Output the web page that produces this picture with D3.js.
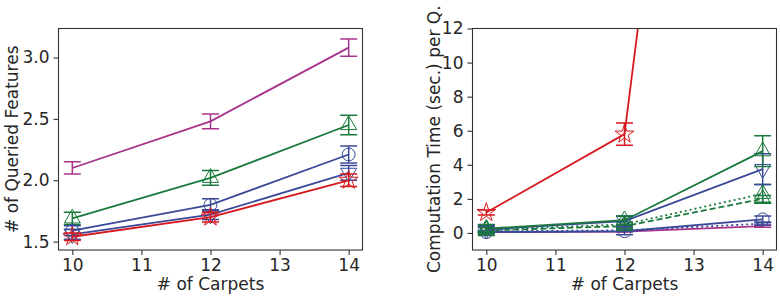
<!DOCTYPE html>
<html><head><meta charset="utf-8">
<script src="https://cdn.jsdelivr.net/npm/d3@7"></script>
<style>body{margin:0;background:#fff}svg{display:block}text{font-family:"DejaVu Sans",sans-serif;fill:#262626}</style>
</head><body><svg id="c" width="780" height="297"></svg>
<script>
// ---- data ----
const carpets = [10, 12, 14];
const xTicks = [10, 11, 12, 13, 14];
const leftYTicks = [1.5, 2.0, 2.5, 3.0];
const rightYTicks = [0, 2, 4, 6, 8, 10, 12];

// # of queried features (left)
const qfPurple = [2.10, 2.48, 3.08], qfPurpleErr = [0.05, 0.06, 0.07];
const qfGreen = [1.69, 2.02, 2.45], qfGreenErr = [0.05, 0.06, 0.08];
const qfBlueCircle = [1.59, 1.80, 2.21], qfBlueCircleErr = [0.04, 0.05, 0.07];
const qfBlueTri = [1.56, 1.72, 2.06], qfBlueTriErr = [0.04, 0.04, 0.06];
const qfRed = [1.54, 1.70, 2.00], qfRedErr = [0.03, 0.04, 0.05];

// computation time (right)
const ctPurple = [0.05, 0.08, 0.40], ctPurpleErr = [0.03, 0.03, 0.06];
const ctBlueDotted = [0.10, 0.15, 0.55], ctBlueDottedErr = [0.05, 0.05, 0.1];
const ctBlueCircle = [0.05, 0.10, 0.80], ctBlueCircleErr = [0.1, 0.2, 0.2];
const ctGreenDashed = [0.15, 0.40, 2.00], ctGreenDashedErr = [0.3, 0.1, 0.2];
const ctGreenDotted = [0.20, 0.50, 2.30], ctGreenDottedErr = [0.1, 0.15, 0.55];
const ctBlueTri = [0.20, 0.70, 3.75], ctBlueTriErr = [0.2, 0.3, 0.9];
const ctGreen = [0.25, 0.75, 4.80], ctGreenErr = [0.25, 0.25, 0.9];
const ctRed = [1.20, 5.80, 70.0], ctRedErr = [0.15, 0.65, 0];

const C = {red:"#d7191f", green:"#1a7a3c", blue:"#3b4a98", purple:"#a8338c"};

const svg = d3.select("#c");
const sym = {
  circle: d3.symbol().type(d3.symbolCircle).size(130),
  triUp: d3.symbol().type(d3.symbolTriangle).size(110),
  triDown: d3.symbol().type(d3.symbolTriangle).size(110),
  star: d3.symbol().type(d3.symbolStar).size(110)
};

function panel(cfg) {
  const {x0, x1, y0, y1, yDomain, yTicks, yFmt, ylabel, ylabelX, series, id} = cfg;
  const x = d3.scaleLinear().domain([9.8, 14.2]).range([x0, x1]);
  const y = d3.scaleLinear().domain(yDomain).range([y1, y0]);
  const g = svg.append("g");
  g.append("clipPath").attr("id", id).append("rect")
    .attr("x", x0).attr("y", y0).attr("width", x1 - x0).attr("height", y1 - y0);
  const pg = g.append("g").attr("clip-path", `url(#${id})`);
  series.forEach(s => {
    const pts = carpets.map((c, i) => ({x: c, v: s.v[i], e: s.e[i]}));
    pg.append("path").datum(pts)
      .attr("d", d3.line().x(d => x(d.x)).y(d => y(d.v)))
      .attr("fill", "none").attr("stroke", s.c).attr("stroke-width", 1.8)
      .attr("stroke-dasharray", s.dash || null);
    pts.forEach(d => {
      if (d.e > 0) {
        pg.append("line").attr("x1", x(d.x)).attr("x2", x(d.x))
          .attr("y1", y(d.v - d.e)).attr("y2", y(d.v + d.e))
          .attr("stroke", s.c).attr("stroke-width", 1.5);
        [d.v - d.e, d.v + d.e].forEach(t => {
          pg.append("line").attr("x1", x(d.x) - 8.5).attr("x2", x(d.x) + 8.5)
            .attr("y1", y(t)).attr("y2", y(t)).attr("stroke", s.c).attr("stroke-width", 1.5);
        });
      }
      if (s.m) {
        pg.append("path").attr("d", sym[s.m]())
          .attr("transform", `translate(${x(d.x)},${y(d.v)})${s.m === "triDown" ? " rotate(180)" : ""}`)
          .attr("fill", "none").attr("stroke", s.c).attr("stroke-width", 1);
      }
    });
  });
  // frame
  g.append("rect").attr("x", x0).attr("y", y0).attr("width", x1 - x0).attr("height", y1 - y0)
    .attr("fill", "none").attr("stroke", "#333").attr("stroke-width", 1.1);
  const xa = g.append("g").attr("transform", `translate(0,${y1})`)
    .call(d3.axisBottom(x).tickValues(xTicks).tickFormat(d3.format("d")).tickSize(5).tickPadding(4));
  const ya = g.append("g").attr("transform", `translate(${x0},0)`)
    .call(d3.axisLeft(y).tickValues(yTicks).tickFormat(yFmt).tickSize(5).tickPadding(4));
  [xa, ya].forEach(a => {
    a.select(".domain").remove();
    a.selectAll("line").attr("stroke", "#333").attr("stroke-width", 1.1);
    a.selectAll("text").style("font-size", "17px").attr("fill", "#262626").style("font-family", "DejaVu Sans");
  });
  g.append("text").attr("x", (x0 + x1) / 2).attr("y", 290).attr("text-anchor", "middle")
    .style("font-size", "17px").text("# of Carpets");
  g.append("text").attr("transform", `translate(${ylabelX},${(y0 + y1) / 2}) rotate(-90)`)
    .attr("text-anchor", "middle").style("font-size", "17px").text(ylabel);
}

panel({
  id: "clipL", x0: 58.5, x1: 362.5, y0: 28.5, y1: 250,
  yDomain: [1.432, 3.236], yTicks: leftYTicks, yFmt: d3.format(".1f"),
  ylabel: "# of Queried Features", ylabelX: 18,
  series: [
    {v: qfPurple, e: qfPurpleErr, c: C.purple, m: null},
    {v: qfGreen, e: qfGreenErr, c: C.green, m: "triUp"},
    {v: qfBlueCircle, e: qfBlueCircleErr, c: C.blue, m: "circle"},
    {v: qfBlueTri, e: qfBlueTriErr, c: C.blue, m: "triDown"},
    {v: qfRed, e: qfRedErr, c: C.red, m: "star"}
  ]
});

panel({
  id: "clipR", x0: 472.5, x1: 776.5, y0: 28.5, y1: 250,
  yDomain: [-1, 12], yTicks: rightYTicks, yFmt: d3.format("d"),
  ylabel: "Computation Time (sec.) per Q.", ylabelX: 440,
  series: [
    {v: ctPurple, e: ctPurpleErr, c: C.purple, m: null},
    {v: ctBlueDotted, e: ctBlueDottedErr, c: C.blue, m: null, dash: "2,3"},
    {v: ctBlueCircle, e: ctBlueCircleErr, c: C.blue, m: "circle"},
    {v: ctGreenDashed, e: ctGreenDashedErr, c: C.green, m: "triUp", dash: "6,3"},
    {v: ctGreenDotted, e: ctGreenDottedErr, c: C.green, m: "triUp", dash: "2,3"},
    {v: ctBlueTri, e: ctBlueTriErr, c: C.blue, m: "triDown"},
    {v: ctGreen, e: ctGreenErr, c: C.green, m: "triUp"},
    {v: ctRed, e: ctRedErr, c: C.red, m: "star"}
  ]
});
</script></body></html>
